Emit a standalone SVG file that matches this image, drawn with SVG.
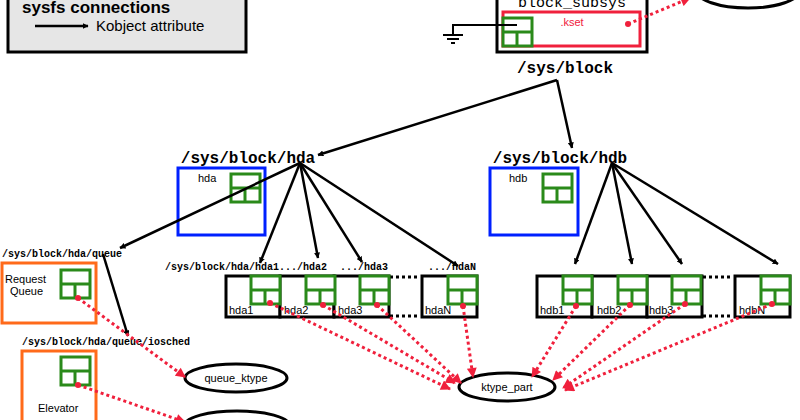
<svg xmlns="http://www.w3.org/2000/svg" width="800" height="420" viewBox="0 0 800 420">
<defs>
<marker id="ab" viewBox="0 0 10 10" refX="9" refY="5" markerWidth="6" markerHeight="6" orient="auto" markerUnits="userSpaceOnUse"><path d="M0,0L10,5L0,10z" fill="#000"/></marker>
<marker id="ar" viewBox="0 0 10 10" refX="9" refY="5" markerWidth="12" markerHeight="10" orient="auto" markerUnits="userSpaceOnUse"><path d="M0,0L10,5L0,10z" fill="#f0203c"/></marker>
<g id="kobj"><rect x="0" y="0" width="29" height="28" fill="#fff" stroke="#2a8a1a" stroke-width="3"/><path d="M0,14H29M14,14V28" stroke="#2a8a1a" stroke-width="3"/></g>
</defs>
<style>
.bx{fill:#fff;stroke:#000;stroke-width:3}
.bl{fill:#fff;stroke:#0020ff;stroke-width:3}
.or{fill:#fff;stroke:#ff6a1a;stroke-width:3}
.el{fill:#fff;stroke:#000;stroke-width:3}
.k{stroke:#000;stroke-width:2.5;fill:none;marker-end:url(#ab)}
.r{stroke:#f0203c;stroke-width:3;stroke-dasharray:3 3;fill:none;marker-end:url(#ar)}
.dot{fill:#f0203c}
.s{font-family:"Liberation Sans",Arial,sans-serif;font-size:11px}
.m{font-family:"Liberation Mono",monospace;font-weight:bold}
</style>
<rect width="800" height="420" fill="#fff"/>
<g id="legend">
<rect x="8" y="-10" width="238" height="62" fill="#e6e6e6" stroke="#000" stroke-width="3"/>
<text x="22" y="13" font-family="Liberation Sans,Arial,sans-serif" font-weight="bold" font-size="17">sysfs connections</text>
<line x1="35" y1="26" x2="88" y2="26" class="k"/>
<text x="96" y="31" font-family="Liberation Sans,Arial,sans-serif" font-size="15">Kobject attribute</text>
</g>
<g id="block_subsys">
<rect x="497" y="-10" width="150" height="62" class="bx"/>
<text x="572" y="7" text-anchor="middle" font-family="Liberation Mono,monospace" font-size="15">block_subsys</text>
<rect x="503" y="12" width="137" height="34" fill="none" stroke="#f0203c" stroke-width="3"/>
<text x="572" y="26" text-anchor="middle" class="s" fill="#f0203c" font-size="9">.kset</text>
<use href="#kobj" x="503" y="18"/>
<path d="M517,25H453V35M443,35H463M447,39H459M451,43H455" stroke="#000" stroke-width="2" fill="none"/>
<text x="565" y="73" text-anchor="middle" class="m" font-size="16">/sys/block</text>
</g>
<ellipse id="top_ellipse" cx="748" cy="-10" rx="52" ry="18" class="el"/>
<g id="hda">
<text x="248" y="163" text-anchor="middle" class="m" font-size="16">/sys/block/hda</text>
<rect x="178" y="168" width="87" height="67" class="bl"/>
<text x="198" y="182" class="s" font-size="10">hda</text>
<use href="#kobj" x="231" y="174"/>
</g>
<g id="hdb">
<text x="560" y="163" text-anchor="middle" class="m" font-size="16">/sys/block/hdb</text>
<rect x="490" y="168" width="88" height="67" class="bl"/>
<text x="509" y="182" class="s" font-size="10">hdb</text>
<use href="#kobj" x="543" y="174"/>
</g>
<g id="queue">
<text x="2" y="257" class="m" font-size="10">/sys/block/hda/queue</text>
<rect x="2" y="263" width="94" height="60" class="or"/>
<text x="5" y="283" class="s" font-size="10">Request</text>
<text x="10" y="295" class="s" font-size="10">Queue</text>
<use href="#kobj" x="61" y="270"/>
</g>
<g id="iosched">
<text x="22" y="345" class="m" font-size="10">/sys/block/hda/queue/iosched</text>
<rect x="22" y="351" width="74" height="72" class="or"/>
<text x="38" y="412" class="s" font-size="10">Elevator</text>
<use href="#kobj" x="61" y="357"/>
</g>
<g id="queue_ktype"><ellipse cx="236" cy="378" rx="51" ry="14" class="el"/><text x="236" y="382" text-anchor="middle" class="s" font-size="10">queue_ktype</text></g>
<ellipse id="bottom_ellipse" cx="237" cy="425" rx="52" ry="14" class="el"/>
<g id="ktype_part"><ellipse cx="507" cy="387" rx="48" ry="14" class="el"/><text x="507" y="391" text-anchor="middle" class="s" font-size="10">ktype_part</text></g>
<g id="hda_parts">
<text x="165" y="270" class="m" font-size="10">/sys/block/hda/hda1</text>
<text x="327" y="270" text-anchor="end" class="m" font-size="10">.../hda2</text>
<text x="388" y="270" text-anchor="end" class="m" font-size="10">.../hda3</text>
<text x="476" y="270" text-anchor="end" class="m" font-size="10">.../hdaN</text>
<rect x="226" y="276" width="54" height="41" class="bx"/><rect x="280" y="276" width="54" height="41" class="bx"/><rect x="334" y="276" width="55" height="41" class="bx"/><rect x="422" y="276" width="55" height="41" class="bx"/>
<path d="M390,277H420M390,316H420" stroke="#000" stroke-width="3" stroke-dasharray="3 3"/>
<use href="#kobj" x="251" y="276"/><use href="#kobj" x="306" y="276"/><use href="#kobj" x="360" y="276"/><use href="#kobj" x="448" y="276"/>
<text x="229" y="314" class="s" font-size="10">hda1</text><text x="284" y="314" class="s" font-size="10">hda2</text><text x="338" y="314" class="s" font-size="10">hda3</text><text x="425" y="314" class="s" font-size="10">hdaN</text>
</g>
<g id="hdb_parts">
<rect x="537" y="276" width="55" height="41" class="bx"/><rect x="592" y="276" width="55" height="41" class="bx"/><rect x="647" y="276" width="55" height="41" class="bx"/><rect x="735" y="276" width="55" height="41" class="bx"/>
<path d="M703,277H733M703,316H733" stroke="#000" stroke-width="3" stroke-dasharray="3 3"/>
<use href="#kobj" x="563" y="276"/><use href="#kobj" x="618" y="276"/><use href="#kobj" x="672" y="276"/><use href="#kobj" x="761" y="276"/>
<text x="540" y="314" class="s" font-size="10">hdb1</text><text x="597" y="314" class="s" font-size="10">hdb2</text><text x="649" y="314" class="s" font-size="10">hdb3</text><text x="739" y="314" class="s" font-size="10">hdbN</text>
</g>
<g id="connectors">
<path class="k" d="M557,80L318,155"/><path class="k" d="M557,80L572,148"/>
<path class="k" d="M300,163L120,248"/><path class="k" d="M300,163L260,263"/><path class="k" d="M300,163L318,258"/><path class="k" d="M300,163L362,262"/><path class="k" d="M300,163L458,266"/>
<path class="k" d="M612,163L575,264"/><path class="k" d="M612,163L632,264"/><path class="k" d="M612,163L682,264"/><path class="k" d="M612,163L778,264"/>
<path class="k" d="M103,254L128,336"/>
<circle class="dot" cx="628" cy="24" r="3"/><path class="r" d="M628,24L690,-2"/>
<circle class="dot" cx="78" cy="298" r="3"/><path class="r" d="M78,298L185,377"/>
<circle class="dot" cx="78" cy="385" r="3"/><path class="r" d="M78,385L185,422"/>
<circle class="dot" cx="270" cy="303" r="3"/><path class="r" d="M270,303L450,389"/>
<circle class="dot" cx="323" cy="305" r="3"/><path class="r" d="M323,305L455,383"/>
<circle class="dot" cx="377" cy="305" r="3"/><path class="r" d="M377,305L461,383"/>
<circle class="dot" cx="463" cy="306" r="3"/><path class="r" d="M463,306L473,377"/>
<circle class="dot" cx="576" cy="306" r="3"/><path class="r" d="M576,306L532,377"/>
<circle class="dot" cx="630" cy="305" r="3"/><path class="r" d="M630,305L553,380"/>
<circle class="dot" cx="685" cy="304" r="3"/><path class="r" d="M685,304L563,388"/>
<circle class="dot" cx="772" cy="304" r="3"/><path class="r" d="M772,304L565,390"/>
</g>
</svg>
